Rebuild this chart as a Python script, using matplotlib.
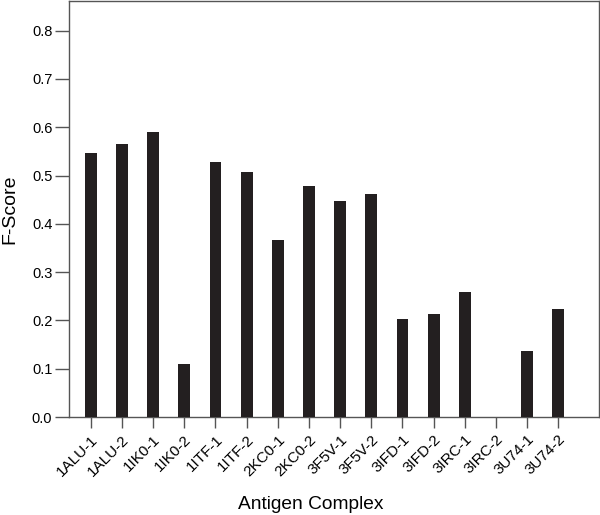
import matplotlib
matplotlib.use("Agg")
from matplotlib import pyplot as plt
from matplotlib.ticker import FormatStrFormatter

# F-score per antigen complex
complexes = ["1ALU-1", "1ALU-2", "1IK0-1", "1IK0-2", "1ITF-1", "1ITF-2",
             "2KC0-1", "2KC0-2", "3F5V-1", "3F5V-2", "3IFD-1", "3IFD-2",
             "3IRC-1", "3IRC-2", "3U74-1", "3U74-2"]
fscores = [0.547, 0.565, 0.590, 0.109, 0.528, 0.507,
           0.367, 0.478, 0.447, 0.461, 0.204, 0.214,
           0.258, 0.0, 0.137, 0.223]
yticks = [0.0, 0.1, 0.2, 0.3, 0.4, 0.5, 0.6, 0.7, 0.8]

plt.rcParams["font.family"] = ["Liberation Sans", "DejaVu Sans"]

fig = plt.figure(figsize=(6.0, 5.15), dpi=100)
ax = fig.add_axes([0.115, 0.19, 0.883, 0.808])

x = list(range(len(complexes)))
ax.bar(x, fscores, width=0.38, color="#231f20", zorder=3)

ax.set_xlim(-0.7, 16.3)
ax.set_ylim(0, 0.861)
ax.set_yticks(yticks)
ax.yaxis.set_major_formatter(FormatStrFormatter("%.1f"))
ax.set_xticks(x)
ax.set_xticklabels(complexes, rotation=45, ha="right", rotation_mode="anchor")

for s in ax.spines.values():
    s.set_color("#555555")
    s.set_linewidth(1.0)

ax.tick_params(axis="y", length=10, width=1, color="#555555", labelsize=10.5, pad=2)
ax.tick_params(axis="x", length=8, width=1, color="#555555", labelsize=11, pad=3)

ax.set_ylabel("F-Score", fontsize=14, labelpad=10)
ax.set_xlabel("Antigen Complex", fontsize=13.8, labelpad=12)
# label sits a little left of the axes centre in the original
ax.xaxis.set_label_coords(0.456, -0.19)

fig.savefig("out.png", dpi=100)
